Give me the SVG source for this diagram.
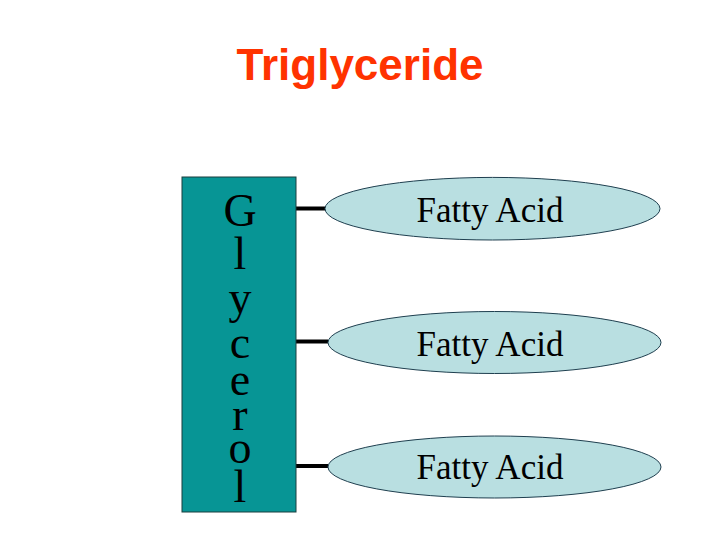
<svg xmlns="http://www.w3.org/2000/svg" width="720" height="540" viewBox="0 0 720 540">
<style>
.title{font-family:"Liberation Sans",Arial,sans-serif;font-weight:bold;font-size:44px;fill:#FF3300;text-anchor:middle}
.gly{font-family:"Liberation Serif","Times New Roman",serif;font-size:46px;fill:#000;text-anchor:middle}
.fa{fill:#B9DFE1;stroke:#1F3F4F;stroke-width:1}
.fat{font-family:"Liberation Serif","Times New Roman",serif;font-size:35px;fill:#000;text-anchor:middle}
.conn{stroke:#000;stroke-width:4;fill:none}
</style>
<rect width="720" height="540" fill="#FFFFFF"/>
<text class="title" x="360" y="80">Triglyceride</text>
<g id="connectors">
<line class="conn" x1="296" y1="208.5" x2="326" y2="208.5"/>
<line class="conn" x1="296" y1="341.5" x2="328" y2="341.5"/>
<line class="conn" x1="296" y1="466" x2="328" y2="466"/>
</g>
<g id="glycerol">
<rect x="182" y="177" width="114" height="335" fill="#079595" stroke="#1A3F3F" stroke-width="1"/>
<text class="gly" x="240" y="226">G</text>
<text class="gly" x="240" y="269">l</text>
<text class="gly" x="240" y="313">y</text>
<text class="gly" x="240" y="358">c</text>
<text class="gly" x="240" y="395">e</text>
<text class="gly" x="240" y="430">r</text>
<text class="gly" x="240" y="463">o</text>
<text class="gly" x="240" y="502">l</text>
</g>
<g id="fa1">
<ellipse class="fa" cx="492.5" cy="208.7" rx="167.5" ry="31.3"/>
<text class="fat" x="490" y="222">Fatty Acid</text>
</g>
<g id="fa2">
<ellipse class="fa" cx="494.5" cy="342.5" rx="166.5" ry="31"/>
<text class="fat" x="490" y="355.5">Fatty Acid</text>
</g>
<g id="fa3">
<ellipse class="fa" cx="494.5" cy="467" rx="166.5" ry="31"/>
<text class="fat" x="490" y="479">Fatty Acid</text>
</g>
</svg>
